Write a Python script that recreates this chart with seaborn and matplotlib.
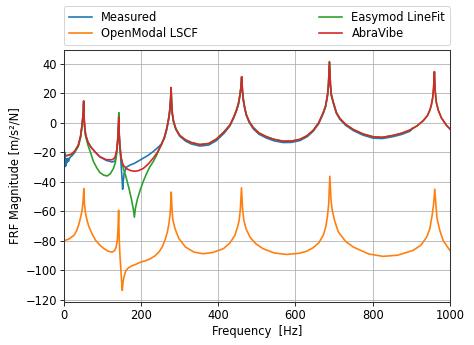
import matplotlib
matplotlib.use("Agg")
import matplotlib.pyplot as plt
import pandas as pd
import seaborn as sns

# Measured FRF (stops at ~904 Hz)
freq_measured = [0.5, 1.5, 2.5, 3.5, 4.5, 5.5, 6.5, 8, 10, 12, 15, 20, 28, 37, 43, 46, 48.5, 50, 51, 52,
                 53.5, 56, 62, 70, 80, 93, 110, 125, 132, 137, 139.5, 141, 142, 143, 145, 147, 149, 151,
                 152, 153.5, 156, 162, 172, 182, 192, 205, 218, 231, 242, 252, 260, 266, 270, 273, 275,
                 276.5, 277.5, 279, 281, 284, 290, 300, 315, 330, 352, 375, 395, 415, 430, 440, 447, 452,
                 456, 458.5, 460.5, 462.5, 465, 469, 473, 480, 490, 505, 525, 545, 568, 590, 611, 630,
                 646, 660, 672, 678, 683, 685.5, 688, 690.5, 693, 698, 706, 715, 730, 750, 775, 801, 825,
                 853, 875, 896, 900, 903]
mag_measured = [-16, -30, -20, -28, -24, -29, -25, -27, -24, -26, -23.5, -22.5, -20, -15.5, -9, -3, 3, 8,
                14.5, 4, -2, -8, -13, -16.5, -19.5, -23, -25.5, -26.5, -26, -19, -11, -3, 2, -8, -17, -24,
                -32, -40, -45, -40, -34, -30, -28.5, -27.5, -26, -24, -22, -19.5, -17, -14.5, -10.5, -5,
                0.5, 5.5, 10.5, 16.5, 23.5, 12.5, 5.5, 0.5, -4.5, -9, -12.3, -14.3, -15.7, -15, -12, -7,
                -2, 3.5, 8.2, 12.5, 18.5, 23.5, 31, 21.5, 15, 9, 4.8, 0.3, -3.8, -7.6, -10.3, -12.2,
                -13.3, -13.2, -12, -9.4, -5.6, -0.6, 6.5, 11, 18.5, 25.5, 41, 25.5, 18.5, 13.5, 6.5, 2.5,
                -1.6, -5.2, -8.3, -10.3, -10.6, -9.3, -7.8, -5.7, -4.8, -3.6]

# OpenModal LSCF fit
freq_lscf = [0, 13, 26, 33, 39, 44, 47, 49.5, 51.5, 53, 56, 60, 65, 73, 82, 93, 104, 115, 125, 131, 135,
             138, 140, 141.6, 143, 145, 147.5, 149.5, 151, 153, 155.4, 160, 166, 173, 186, 199, 212, 224,
             236, 246, 255, 263, 268, 272, 275, 276.5, 278, 280, 282, 288, 298, 315, 337, 360, 385, 413,
             430, 443, 450, 454, 457, 460, 463, 466, 472, 482, 497, 516, 545, 577, 610, 630, 646, 660,
             672, 679, 683, 686, 689, 692, 695, 701, 711, 730, 750, 790, 827, 865, 905, 925, 940, 948,
             954, 958, 961, 964, 967, 974, 983, 1000]
mag_lscf = [-80, -78.8, -76.3, -73, -68.4, -63, -59.3, -53, -44.6, -55, -61.6, -66.5, -70.7, -75.5, -79.7,
            -83, -85.4, -87.2, -87.7, -86.8, -84.5, -80, -72, -59.3, -78, -90, -100, -108, -113.7, -108,
            -104.7, -100.5, -98.6, -97.4, -96, -94.5, -93.5, -92.2, -90.2, -87.7, -84, -78.6, -74, -68.4,
            -62, -56, -46.9, -59, -65.7, -72, -78.6, -84.3, -87.7, -88.8, -88, -85.4, -81.5, -76.3, -70.5,
            -66.1, -59, -44, -59, -66, -72, -77.5, -82, -85.4, -88.3, -89.3, -88.5, -87, -84.7, -81.5,
            -76.3, -70, -63, -55, -36.2, -52, -59, -66, -74, -80.5, -84.3, -89, -90.6, -89.8, -86.5, -83,
            -77.5, -72, -63, -55, -45, -56, -65, -73, -80, -86.5]

# AbraVibe fit
freq_abra = [0, 10, 20, 28, 37, 43, 46, 48.5, 50, 51, 52, 53.5, 56, 62, 70, 80, 93, 110, 125, 132, 137,
             139.5, 141, 142, 143, 145, 148, 153, 162, 172, 182, 192, 205, 218, 231, 242, 252, 260, 266,
             270, 273, 275, 276.5, 277.5, 279, 281, 284, 290, 300, 315, 330, 352, 375, 395, 415, 430, 440,
             447, 452, 456, 458.5, 460.5, 462.5, 465, 469, 473, 480, 490, 505, 525, 545, 568, 590, 611,
             630, 646, 660, 672, 678, 683, 685.5, 688, 690.5, 693, 698, 706, 715, 730, 750, 775, 801, 825,
             853, 875, 896, 915, 931, 942, 948, 952, 955.5, 958, 960, 962, 965, 970, 978, 991, 1000]
mag_abra = [-22.5, -22, -21, -19, -15, -9, -3, 3, 8, 15, 4, -2, -8, -13, -16.5, -19.5, -23, -25, -25,
            -23.5, -18, -11, -3, 4, -8, -17, -24, -28.5, -31, -32.3, -32.8, -32.5, -31, -28, -24, -20,
            -15, -10, -4, 1, 6, 11, 17, 24, 13, 6, 1, -4, -8.5, -11.5, -13.3, -14.7, -14, -11, -6, -1.5,
            4, 8.7, 13, 19, 24, 31.4, 22, 15.5, 9.5, 5.3, 1, -3, -6.8, -9.4, -11.2, -12.4, -12.3, -11.2,
            -8.7, -5, 0, 7, 11.5, 19, 26, 41.6, 26, 19, 14, 7, 3, -1, -4.5, -7.5, -9.4, -9.8, -8.5, -7,
            -4.9, -2, 1.5, 5, 8.5, 12, 17, 24, 34.8, 22, 14, 8.7, 3.5, -1.5, -4]

# Easymod LineFit: own fit below 250 Hz, coincides with AbraVibe above
freq_easymod_low = [0, 10, 20, 28, 37, 43, 46, 48.5, 50, 51, 52, 53.5, 56, 62, 70, 76, 85, 93, 103, 112,
                    120, 128, 133, 136, 139, 141, 142, 143, 145, 148, 153, 160, 168, 175, 180, 182.5, 185,
                    190, 197, 205, 214, 222, 231, 240, 249]
mag_easymod_low = [-22.5, -22, -21.5, -19.5, -16, -10, -4, 2, 7, 13, 3, -3, -9, -15, -21, -26, -30.5,
                   -33.7, -35.5, -36, -34.5, -31, -27, -22, -12, -2, 7, -6, -15, -23, -30, -36, -44, -52,
                   -59, -64, -58, -52, -46, -40, -34.4, -30, -26.4, -22, -16.5]

labels = ["Measured", "OpenModal LSCF", "Easymod LineFit", "AbraVibe"]
colors = ["#1f77b4", "#ff7f0e", "#2ca02c", "#d62728"]

tail = [(f, m) for f, m in zip(freq_abra, mag_abra) if f > freq_easymod_low[-1]]
freq_easymod = freq_easymod_low + [f for f, _ in tail]
mag_easymod = mag_easymod_low + [m for _, m in tail]

frames = [
    pd.DataFrame({"freq": freq_measured, "mag": mag_measured}),
    pd.DataFrame({"freq": freq_lscf, "mag": mag_lscf}),
    pd.DataFrame({"freq": freq_easymod, "mag": mag_easymod}),
    pd.DataFrame({"freq": freq_abra, "mag": mag_abra}),
]

fs = 11.2
dpi = 74
fig = plt.figure(figsize=(474 / dpi, 345 / dpi), dpi=dpi)
ax = fig.add_axes([0.135, 0.125, 0.814, 0.730])

for df, lab, col in zip(frames, labels, colors):
    sns.lineplot(data=df, x="freq", y="mag", ax=ax, label=lab, color=col,
                 sort=False, estimator=None, linewidth=1.6)

ax.set_xlim(0, 1000)
ax.set_ylim(-121.5, 49.5)
ax.set_yticks(range(-120, 41, 20))
ax.grid(True, color="#b0b0b0", linewidth=0.8)
ax.set_xlabel("Frequency  [Hz]", fontsize=fs, labelpad=3)
ax.set_ylabel("FRF Magnitude [m/s²/N]", fontsize=fs, labelpad=3)
ax.tick_params(labelsize=fs)
for sp in ax.spines.values():
    sp.set_color("#333333")
    sp.set_linewidth(1.0)

ax.legend(bbox_to_anchor=(0, 1.02, 1, 0.2), loc="lower left", mode="expand",
          ncol=2, borderaxespad=0, fontsize=fs, frameon=True,
          handlelength=2.0, borderpad=0.4, labelspacing=0.3)

fig.savefig("out.png", dpi=dpi)
